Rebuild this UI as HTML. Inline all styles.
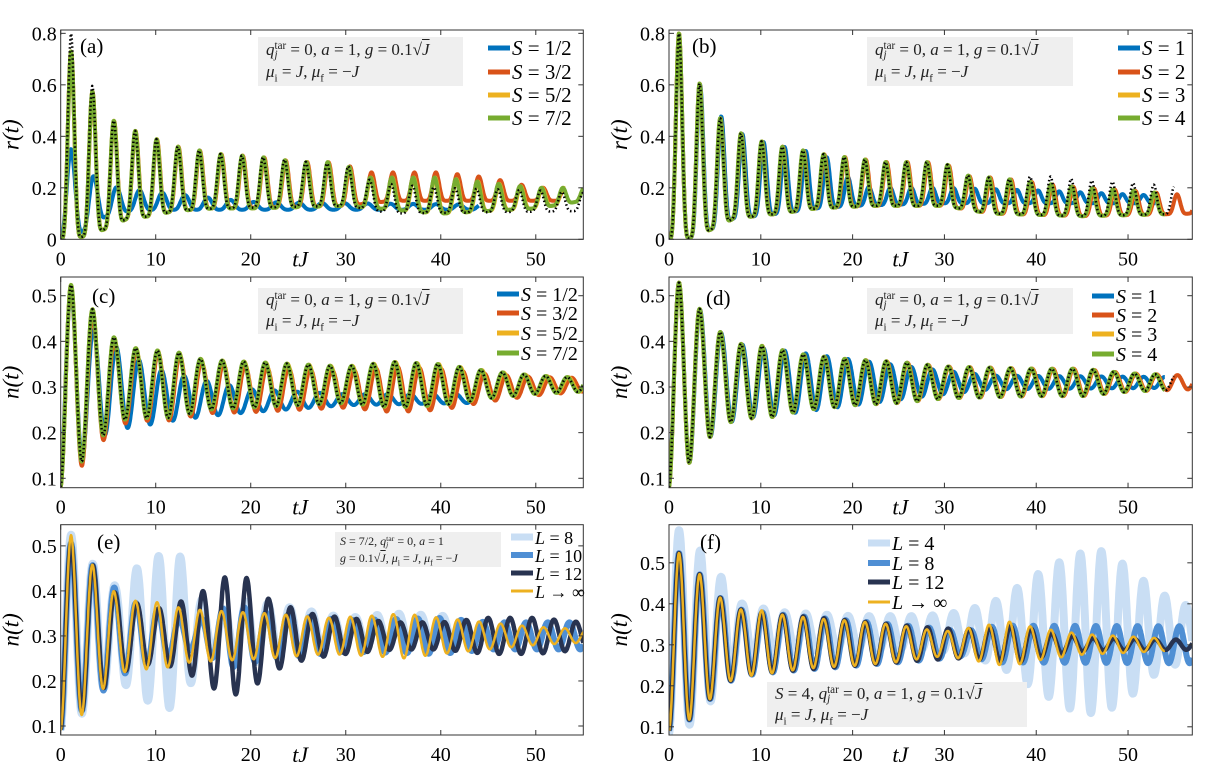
<!DOCTYPE html>
<html><head><meta charset="utf-8">
<style>
html,body{margin:0;padding:0;background:#fff;}
#wrap{position:relative;width:1209px;height:771px;overflow:hidden;font-family:"Liberation Serif",serif;}
svg{position:absolute;left:0;top:0;}
.box{position:absolute;background:#efefef;font-family:"Liberation Serif",serif;color:#222;white-space:nowrap;}
.box div{position:absolute;left:8px;}
i{font-style:italic;}
.ss{display:inline-block;vertical-align:middle;line-height:0.8;font-size:0.65em;text-align:left;}
.ss span{display:block;}
.lab{position:absolute;font-size:21px;font-family:"Liberation Serif",serif;}
</style></head><body>
<div id="wrap">
<svg id="s" width="1209" height="771" xmlns="http://www.w3.org/2000/svg"></svg>

<div class="box" style="left:258px;top:37px;width:205px;height:49px;font-size:17px;">
 <div style="top:3px"><i>q</i><span class="ss"><span>tar</span><span><i>j</i></span></span> = 0, <i>a</i> = 1, <i>g</i> = 0.1√<span style="text-decoration:overline"><i>J</i></span></div>
 <div style="top:25px"><i>μ</i><sub style="font-size:11px">i</sub> = <i>J</i>, <i>μ</i><sub style="font-size:11px">f</sub> = −<i>J</i></div>
</div>
<div class="box" style="left:867px;top:37px;width:206px;height:49px;font-size:17px;">
 <div style="top:3px"><i>q</i><span class="ss"><span>tar</span><span><i>j</i></span></span> = 0, <i>a</i> = 1, <i>g</i> = 0.1√<span style="text-decoration:overline"><i>J</i></span></div>
 <div style="top:25px"><i>μ</i><sub style="font-size:11px">i</sub> = <i>J</i>, <i>μ</i><sub style="font-size:11px">f</sub> = −<i>J</i></div>
</div>
<div class="box" style="left:258px;top:288px;width:205px;height:46px;font-size:17px;">
 <div style="top:2px"><i>q</i><span class="ss"><span>tar</span><span><i>j</i></span></span> = 0, <i>a</i> = 1, <i>g</i> = 0.1√<span style="text-decoration:overline"><i>J</i></span></div>
 <div style="top:23px"><i>μ</i><sub style="font-size:11px">i</sub> = <i>J</i>, <i>μ</i><sub style="font-size:11px">f</sub> = −<i>J</i></div>
</div>
<div class="box" style="left:867px;top:288px;width:206px;height:46px;font-size:17px;">
 <div style="top:2px"><i>q</i><span class="ss"><span>tar</span><span><i>j</i></span></span> = 0, <i>a</i> = 1, <i>g</i> = 0.1√<span style="text-decoration:overline"><i>J</i></span></div>
 <div style="top:23px"><i>μ</i><sub style="font-size:11px">i</sub> = <i>J</i>, <i>μ</i><sub style="font-size:11px">f</sub> = −<i>J</i></div>
</div>
<div class="box" style="left:335px;top:532px;width:166px;height:35px;font-size:12px;">
 <div style="top:2px;left:5px"><i>S</i> = 7/2, <i>q</i><span class="ss"><span>tar</span><span><i>j</i></span></span> = 0, <i>a</i> = 1</div>
 <div style="top:19px;left:5px"><i>g</i> = 0.1√<span style="text-decoration:overline"><i>J</i></span>, <i>μ</i><sub style="font-size:8px">i</sub> = <i>J</i>, <i>μ</i><sub style="font-size:8px">f</sub> = −<i>J</i></div>
</div>
<div class="box" style="left:767px;top:682px;width:260px;height:45px;font-size:17px;">
 <div style="top:2px"><i>S</i> = 4, <i>q</i><span class="ss"><span>tar</span><span><i>j</i></span></span> = 0, <i>a</i> = 1, <i>g</i> = 0.1√<span style="text-decoration:overline"><i>J</i></span></div>
 <div style="top:23px"><i>μ</i><sub style="font-size:11px">i</sub> = <i>J</i>, <i>μ</i><sub style="font-size:11px">f</sub> = −<i>J</i></div>
</div>

<div class="lab" style="left:80px;top:34px">(a)</div>
<div class="lab" style="left:692px;top:34px">(b)</div>
<div class="lab" style="left:92px;top:284px">(c)</div>
<div class="lab" style="left:706px;top:286px">(d)</div>
<div class="lab" style="left:97px;top:530px">(e)</div>
<div class="lab" style="left:700px;top:530px">(f)</div>
</div>
<script>
var S=document.getElementById('s'),NS='http://www.w3.org/2000/svg';
function el(n,a,p){var e=document.createElementNS(NS,n);for(var k in a)e.setAttribute(k,a[k]);(p||S).appendChild(e);return e;}
function txt(x,y,s,a){a=a||{};a.x=x;a.y=y;var e=el('text',a);e.textContent=s;return e;}
function ip(K,t){if(t<=K[0][0])return K[0][1];for(var i=1;i<K.length;i++){if(t<=K[i][0]){var a=K[i-1],b=K[i];return a[1]+(b[1]-a[1])*(t-a[0])/(b[0]-a[0]);}}return K[K.length-1][1];}
var BL='#0072BD',RD='#D95319',YL='#EDB120',GR='#77AC30';
var cid=0;
function axes(o){
 var X=function(t){return o.x0+(t)*(o.x1-o.x0)/o.tmax;};
 var Y=function(v){return o.y1-(v-o.ymin)*(o.y1-o.y0)/(o.ymax-o.ymin);};
 cid++;var cp=el('clipPath',{id:'c'+cid});el('rect',{x:o.x0,y:o.y0,width:o.x1-o.x0,height:o.y1-o.y0},cp);
 var g=el('g',{'clip-path':'url(#c'+cid+')'});
 o.series.forEach(function(s){
  var d='';for(var t=0;t<=s.end+1e-9;t+=0.04){var v=s.f(t);d+=(d?'L':'M')+X(t).toFixed(1)+' '+Y(v).toFixed(1);}
  var a={d:d,fill:'none',stroke:s.c,'stroke-width':s.w,'stroke-linejoin':'round'};
  if(s.dash)a['stroke-dasharray']=s.dash;
  el('path',a,g);
 });
 el('rect',{x:o.x0,y:o.y0,width:o.x1-o.x0,height:o.y1-o.y0,fill:'none',stroke:'#333','stroke-width':1});
 for(var t=0;t<=o.tmax;t+=10){var x=X(t);el('line',{x1:x,x2:x,y1:o.y1,y2:o.y1-5,stroke:'#333'});el('line',{x1:x,x2:x,y1:o.y0,y2:o.y0+5,stroke:'#333'});
  if(t==30)txt(x,o.y1+26,'30',{'font-size':20,'text-anchor':'middle','font-family':'Liberation Serif'});else txt(x,o.y1+26,''+t,{'font-size':20,'text-anchor':'middle','font-family':'Liberation Serif'});}
 txt(X(25.2),o.y1+27,'tJ',{'font-size':22,'font-style':'italic','text-anchor':'middle','font-family':'Liberation Serif'});
 o.yt.forEach(function(v){var y=Y(v);el('line',{x1:o.x0,x2:o.x0+5,y1:y,y2:y,stroke:'#333'});el('line',{x1:o.x1,x2:o.x1-5,y1:y,y2:y,stroke:'#333'});
  txt(o.x0-4,y+7,o.yl(v),{'font-size':20,'text-anchor':'end','font-family':'Liberation Serif'});});
 var yc=(o.y0+o.y1)/2;
 var lt=txt(o.x0-42,yc,o.ylab,{'font-size':23,'text-anchor':'middle','font-family':'Liberation Serif','font-style':'italic',transform:'rotate(-90 '+(o.x0-42)+' '+yc+')'});
 o.leg.forEach(function(L){el('line',{x1:L.x,x2:L.x+22,y1:L.y,y2:L.y,stroke:L.c,'stroke-width':L.w});
  var e=el('text',{x:L.x+24,y:L.y+7,'font-size':L.fs||21,'font-family':'Liberation Serif'});e.innerHTML=L.t;});
}
function rf(P,t0,pk,mn,ex){return function(t){var c=Math.cos(2*Math.PI*(t-t0)/P);var g=Math.pow((1+c)/2,ex||2.2);var m=ip(mn,t);return m+(ip(pk,t)-m)*g;};}
function nf(P,t0,mean,amp){return function(t){var c=Math.cos(2*Math.PI*(t-t0)/P);return ip(mean,t)+ip(amp,t)*c;};}
function fmt1(v){return v==0?'0':v.toFixed(1);}
var St=function(s){return '<tspan font-style="italic">S</tspan> = '+s;};
var Lt=function(s){return '<tspan font-style="italic">L</tspan> '+s;};

// panel a
var pkA=[[0,0.75],[1.1,0.73],[3.4,0.57],[5.6,0.46],[7.9,0.42],[10,0.39],[12.3,0.36],[14.6,0.345],[17,0.33],[19,0.325],[21,0.32],[24,0.305],[26,0.3],[28,0.3],[30,0.29],[32,0.24],[36,0.24],[40,0.24],[45,0.22],[50,0.2],[55,0.2]];
var mnA=[[0,0],[2.3,0.01],[4.7,0.04],[7,0.08],[9.4,0.09],[12,0.11],[16,0.12],[20,0.12],[30,0.13],[40,0.1],[50,0.12],[55,0.15]];
var pkAr=pkA.map(function(p){return [p[0],p[0]>31&&p[0]<46?p[1]+0.02:p[1]];});
var mnAr=[[0,0],[2.3,0.01],[4.7,0.04],[7,0.08],[9.4,0.09],[12,0.11],[16,0.12],[30,0.13],[35,0.15],[45,0.15],[55,0.15]];
var pkAk=[[0,0.82],[1.1,0.8],[3.4,0.59],[5.6,0.46],[7.9,0.42],[10,0.39],[12.3,0.36],[14.6,0.345],[17,0.33],[21,0.32],[26,0.3],[30,0.29],[33,0.22],[40,0.2],[50,0.19],[55,0.18]];
var mnAk=[[0,0],[2.3,0.01],[4.7,0.04],[7,0.08],[9.4,0.09],[12,0.11],[16,0.12],[30,0.13],[35,0.1],[55,0.11]];
axes({x0:60.7,x1:583.3,tmax:55,y0:30,y1:239.3,ymin:0,ymax:0.813,yt:[0,0.2,0.4,0.6,0.8],yl:fmt1,ylab:'r(t)',
 series:[
 {c:BL,w:4,end:44,f:rf(2.4,1.1,[[0,0.36],[1.1,0.35],[3.6,0.24],[6,0.2],[8.5,0.19],[11,0.18],[13.5,0.17],[16,0.16],[20,0.145],[30,0.14],[44,0.135]],[[0,0],[2.3,0.03],[4.8,0.09],[7.2,0.11],[10,0.115],[20,0.115],[44,0.115]],1.5)},
 {c:RD,w:4,end:53,f:rf(2.258,1.1,pkAr,mnAr)},
 {c:YL,w:4,end:53,f:rf(2.253,1.1,pkA,mnA)},
 {c:GR,w:4,end:55,f:rf(2.25,1.1,pkA,mnA)},
 {c:'#000',w:2.5,end:55,dash:'1.5,2.5',f:rf(2.245,1.1,pkAk,mnAk)}],
 leg:[{x:488,y:48,c:BL,w:5,t:St('1/2')},{x:488,y:72,c:RD,w:5,t:St('3/2')},{x:488,y:95,c:YL,w:5,t:St('5/2')},{x:488,y:118,c:GR,w:5,t:St('7/2')}]});

// panel b
var pkB=[[0,0.82],[1.1,0.8],[3.4,0.6],[5.6,0.47],[7.9,0.41],[10.1,0.38],[12.3,0.36],[14.6,0.345],[16.9,0.33],[19,0.32],[21.3,0.31],[23.6,0.3],[28,0.3],[30.3,0.29],[33,0.24],[35,0.24],[38,0.23],[40,0.22],[45,0.2],[50,0.19],[57,0.17]];
var mnB=[[0,0],[2.3,0.005],[4.7,0.04],[7,0.08],[9.4,0.09],[12,0.1],[16,0.12],[22,0.13],[30,0.13],[35,0.1],[45,0.09],[57,0.1]];
var pkBk=pkB.map(function(p){return [p[0],p[0]>38?p[1]+0.03:p[1]];});
axes({x0:669,x1:1192.3,tmax:57,y0:30,y1:239.3,ymin:0,ymax:0.813,yt:[0,0.2,0.4,0.6,0.8],yl:fmt1,ylab:'r(t)',
 series:[
 {c:BL,w:4,end:53,f:rf(2.3,1.1,[[0,0.82],[1.1,0.78],[3.4,0.6],[5.6,0.48],[7.9,0.41],[10.1,0.38],[12.3,0.36],[16.9,0.33],[19,0.25],[22,0.2],[30,0.2],[40,0.19],[53,0.17]],[[0,0],[2.3,0.005],[4.7,0.04],[7,0.08],[9.4,0.09],[12,0.1],[16,0.12],[20,0.13],[30,0.14],[53,0.14]])},
 {c:RD,w:4,end:57,f:rf(2.26,1.1,pkB,mnB)},
 {c:YL,w:4,end:54,f:rf(2.253,1.1,pkB,mnB)},
 {c:GR,w:4,end:54,f:rf(2.25,1.1,pkB,mnB)},
 {c:'#000',w:2.5,end:55,dash:'1.5,2.5',f:rf(2.248,1.1,pkBk,mnB)}],
 leg:[{x:1118,y:48,c:BL,w:5,t:St('1')},{x:1118,y:72,c:RD,w:5,t:St('2')},{x:1118,y:95,c:YL,w:5,t:St('3')},{x:1118,y:118,c:GR,w:5,t:St('4')}]});

// panel c
var mC=[[0,0.31],[3,0.32],[10,0.305],[55,0.305]];
var aC=[[0,0.23],[1.1,0.21],[3.4,0.15],[5.8,0.09],[8,0.075],[10.3,0.075],[12.5,0.07],[15,0.055],[20,0.05],[25,0.045],[30,0.04],[35,0.05],[40,0.045],[45,0.03],[50,0.02],[55,0.015]];
var fy2=function(v){return v.toFixed(1);};
axes({x0:60.7,x1:583.3,tmax:55,y0:277,y1:487.7,ymin:0.0794,ymax:0.541,yt:[0.1,0.2,0.3,0.4,0.5],yl:fy2,ylab:'n(t)',
 series:[
 {c:BL,w:4,end:43,f:nf(2.38,1.1,[[0,0.31],[5,0.3],[10,0.28],[20,0.27],[43,0.275]],[[0,0.23],[1.1,0.2],[3.5,0.12],[6,0.09],[8.5,0.07],[11,0.055],[15,0.04],[20,0.025],[30,0.012],[43,0.01]])},
 {c:RD,w:4,end:55,f:nf(2.29,1.1,[[0,0.31],[10,0.3],[20,0.295],[40,0.295],[55,0.305]],aC)},
 {c:YL,w:4,end:55,f:nf(2.275,1.1,mC,aC)},
 {c:GR,w:4,end:55,f:nf(2.27,1.1,mC,aC)},
 {c:'#000',w:2.5,end:55,dash:'1.5,2.5',f:nf(2.27,1.1,mC,aC)}],
 leg:[{x:497,y:294,c:BL,w:5,t:St('1/2'),fs:20},{x:497,y:313,c:RD,w:5,t:St('3/2'),fs:20},{x:497,y:333,c:YL,w:5,t:St('5/2'),fs:20},{x:497,y:353,c:GR,w:5,t:St('7/2'),fs:20}]});

// panel d
var aD=[[0,0.23],[1.1,0.215],[3.4,0.15],[5.8,0.1],[8,0.08],[10.3,0.08],[12.5,0.07],[15,0.06],[20,0.05],[25,0.045],[30,0.035],[40,0.03],[45,0.03],[50,0.02],[57,0.015]];
var mD=[[0,0.31],[3,0.32],[10,0.31],[57,0.31]];
axes({x0:669,x1:1192.3,tmax:57,y0:277,y1:487.7,ymin:0.0794,ymax:0.541,yt:[0.1,0.2,0.3,0.4,0.5],yl:fy2,ylab:'n(t)',
 series:[
 {c:BL,w:4,end:54,f:nf(2.3,1.1,mD,[[0,0.23],[1.1,0.215],[3.4,0.15],[5.8,0.1],[8,0.08],[12.5,0.07],[20,0.05],[28,0.03],[35,0.015],[54,0.012]])},
 {c:RD,w:4,end:57,f:nf(2.262,1.1,mD,aD)},
 {c:YL,w:4,end:54,f:nf(2.258,1.1,mD,aD)},
 {c:GR,w:4,end:54,f:nf(2.255,1.1,mD,aD)},
 {c:'#000',w:2.5,end:55,dash:'1.5,2.5',f:nf(2.255,1.1,mD,aD)}],
 leg:[{x:1092,y:296,c:BL,w:5,t:St('1'),fs:20},{x:1092,y:315,c:RD,w:5,t:St('2'),fs:20},{x:1092,y:334,c:YL,w:5,t:St('3'),fs:20},{x:1092,y:354,c:GR,w:5,t:St('4'),fs:20}]});

// panel e
var LB='#c9def4',MB='#4f8fd4',NV='#283350';
axes({x0:60.7,x1:583.3,tmax:55,y0:524.7,y1:735,ymin:0.08,ymax:0.547,yt:[0.1,0.2,0.3,0.4,0.5],yl:fy2,ylab:'n(t)',
 series:[
 {c:LB,w:8,end:42,f:nf(2.3,1.1,[[0,0.31],[55,0.31]],[[0,0.22],[1.1,0.215],[3.4,0.15],[5.8,0.1],[8,0.14],[10.5,0.17],[12.5,0.17],[14.5,0.08],[16,0.04],[20,0.07],[25,0.05],[30,0.03],[35,0.04],[40,0.035],[42,0.03]])},
 {c:MB,w:6,end:55,f:nf(2.28,1.1,[[0,0.31],[10,0.3],[55,0.3]],[[0,0.22],[3.4,0.15],[5.8,0.1],[8,0.07],[10,0.06],[12,0.04],[14,0.03],[18,0.07],[22,0.05],[30,0.035],[40,0.04],[45,0.03],[55,0.03]])},
 {c:NV,w:4.5,end:55,f:nf(2.31,1.1,[[0,0.31],[10,0.3],[55,0.3]],[[0,0.22],[3.4,0.15],[5.8,0.09],[8,0.07],[10,0.06],[12,0.07],[15,0.1],[17,0.13],[19.5,0.13],[22,0.08],[26,0.05],[30,0.04],[35,0.03],[40,0.03],[45,0.04],[50,0.04],[55,0.03]])},
 {c:YL,w:2.5,end:55,f:nf(2.26,1.1,[[0,0.31],[10,0.3],[55,0.3]],[[0,0.22],[1.1,0.215],[3.4,0.15],[5.8,0.09],[8,0.075],[10.3,0.075],[13,0.06],[17,0.055],[22,0.05],[28,0.04],[33,0.045],[36,0.05],[40,0.04],[45,0.03],[50,0.02],[55,0.015]])}],
 leg:[{x:511,y:537,c:LB,w:7,t:Lt('= 8'),fs:18},{x:511,y:555,c:MB,w:6,t:Lt('= 10'),fs:18},{x:511,y:573,c:NV,w:5,t:Lt('= 12'),fs:18},{x:511,y:591,c:YL,w:3,t:Lt('→ ∞'),fs:18}]});

// panel f
var aF=[[0,0.22],[1.1,0.215],[3.6,0.16],[6,0.1],[8,0.08],[10,0.08],[12,0.07],[16,0.06],[20,0.055],[25,0.045],[28,0.035],[30,0.03],[33,0.04],[37,0.055],[40,0.04],[45,0.025],[50,0.02],[54,0.015]];
var mF=[[0,0.31],[5,0.305],[57,0.3]];
axes({x0:669,x1:1192.3,tmax:57,y0:524.7,y1:735,ymin:0.08,ymax:0.593,yt:[0.1,0.2,0.3,0.4,0.5],yl:fy2,ylab:'n(t)',
 series:[
 {c:LB,w:8,end:57,f:nf(2.3,1.1,[[0,0.33],[57,0.33]],[[0,0.25],[1.1,0.25],[3.4,0.2],[5.9,0.13],[8,0.07],[12,0.05],[20,0.04],[28,0.04],[32,0.05],[36,0.08],[40,0.14],[44,0.19],[47,0.2],[50,0.16],[53,0.1],[57,0.06]])},
 {c:MB,w:6,end:57,f:nf(2.27,1.1,mF,[[0,0.22],[1.1,0.215],[3.6,0.16],[6,0.1],[8,0.08],[12,0.07],[20,0.055],[28,0.04],[32,0.03],[36,0.045],[45,0.045],[57,0.045]])},
 {c:NV,w:4.5,end:57,f:nf(2.255,1.1,mF,[[0,0.22],[1.1,0.215],[3.6,0.16],[6,0.1],[8,0.08],[12,0.07],[20,0.055],[28,0.04],[32,0.035],[38,0.045],[42,0.025],[46,0.015],[57,0.012]])},
 {c:YL,w:2.5,end:54,f:nf(2.25,1.1,mF,aF)}],
 leg:[{x:868,y:543,c:LB,w:7,t:Lt('= 4'),fs:20},{x:868,y:563,c:MB,w:6,t:Lt('= 8'),fs:20},{x:868,y:582,c:NV,w:5,t:Lt('= 12'),fs:20},{x:868,y:602,c:YL,w:3,t:Lt('→ ∞'),fs:20}]});
</script>
</body></html>
